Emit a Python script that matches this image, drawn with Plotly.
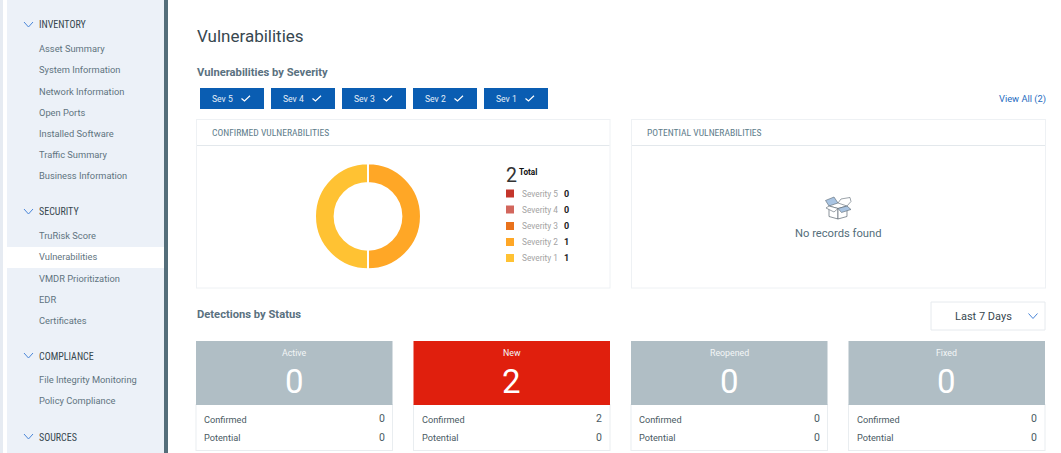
import plotly.graph_objects as go

W, H = 1061, 453

# ---- data ----
nav_groups = ["INVENTORY", "SECURITY", "COMPLIANCE", "SOURCES"]
nav_items = [
    ["Asset Summary", "System Information", "Network Information", "Open Ports",
     "Installed Software", "Traffic Summary", "Business Information"],
    ["TruRisk Score", "Vulnerabilities", "VMDR Prioritization", "EDR", "Certificates"],
    ["File Integrity Monitoring", "Policy Compliance"],
    [],
]
severity_labels = ["Severity 5", "Severity 4", "Severity 3", "Severity 2", "Severity 1"]
severity_values = [0, 0, 0, 1, 1]
severity_colors = ["#C4352B", "#D2665C", "#E9721C", "#FFA726", "#FFC233"]
sev_buttons = ["Sev 5", "Sev 4", "Sev 3", "Sev 2", "Sev 1"]
status_names = ["Active", "New", "Reopened", "Fixed"]
status_confirmed = [0, 2, 0, 0]
status_potential = [0, 0, 0, 0]
status_colors = ["#B0BEC5", "#E01F0D", "#B0BEC5", "#B0BEC5"]

shapes, ann = [], []
BODY = "Roboto, Arial, sans-serif"
NARROW = "'Roboto Condensed', Roboto, sans-serif"


def X(x):
    return x / W


def Y(y):
    return 1 - y / H


def rect(x0, y0, x1, y1, fill, line=None, lw=1):
    shapes.append(dict(type="rect", xref="paper", yref="paper", x0=X(x0), y0=Y(y0), x1=X(x1), y1=Y(y1),
                       fillcolor=fill, layer="below",
                       line=dict(color=line, width=lw) if line else dict(width=0)))


def path(pts, color, lw=1, fill=None, close=False):
    d = "M " + " L ".join(f"{X(a):.5f} {Y(b):.5f}" for a, b in pts) + (" Z" if close else "")
    shapes.append(dict(type="path", xref="paper", yref="paper", path=d,
                       fillcolor=fill or "rgba(0,0,0,0)", layer="above",
                       line=dict(color=color, width=lw)))


def text(x, y, s, size, color, anchor="left", font=BODY, bold=False):
    ann.append(dict(xref="paper", yref="paper", x=X(x), y=Y(y), text=f"<b>{s}</b>" if bold else s,
                    showarrow=False, xanchor=anchor, yanchor="middle",
                    font=dict(size=size, color=color, family=font), borderpad=0, borderwidth=0))


def chevron(cx, cy, w, h, color):
    path([(cx - w, cy - h), (cx, cy + h), (cx + w, cy - h)], color, 1)


# ---- sidebar ----
rect(0, 0, 3, H, "#E6EBF2")
rect(7, 0, 164, H, "#ECF1F8")
rect(164, 0, 168, H, "#546E7A")
rect(7, 247, 164, 268, "#FFFFFF")
group_y = [25, 212, 356, 437]
for name, items, gy in zip(nav_groups, nav_items, group_y):
    chevron(28.5, gy - 0.5, 4.5, 2.5, "#4A86D8")
    text(39, gy, name, 10, "#37474F", font=NARROW)
    for i, it in enumerate(items):
        text(39, gy + 23.8 + i * 21.15, it, 9.3, "#5F7480")

# ---- heading ----
text(197, 36, "Vulnerabilities", 17, "#37474F")
text(197, 72, "Vulnerabilities by Severity", 11.2, "#5A7180", bold=True)
text(1045.5, 99, "View All (2)", 9.3, "#1E6BC0", anchor="right")

# ---- severity buttons ----
for i, b in enumerate(sev_buttons):
    x0 = 200 + i * 71
    rect(x0, 88, x0 + 64, 109, "#0A5DB2")
    text(x0 + 12, 98.5, b, 8.6, "#E4EEF8")
    path([(x0 + 41.5, 98.5), (x0 + 44.5, 101), (x0 + 50, 95.8)], "#FFFFFF", 1.2)

# ---- cards ----
for x0, x1, title in [(197, 609.5, "CONFIRMED VULNERABILITIES"), (632, 1045, "POTENTIAL VULNERABILITIES")]:
    rect(x0 - 1, 119, x1 + 1, 288.5, "#EEF1F4")
    rect(x0, 120, x1, 287.5, "#FFFFFF")
    rect(x0, 145, x1, 146, "#E3E8EC")
    text(x0 + 14.5, 133, title, 9.6, "#607D8B", font=NARROW)

# ---- legend beside the donut ----
text(505.5, 175, str(sum(severity_values)), 19.5, "#333333")
text(519, 171.5, "Total", 8.2, "#111111", bold=True)
leg_y = [193.5, 209.5, 226, 242, 258]
for lab, val, col, y in zip(severity_labels, severity_values, severity_colors, leg_y):
    rect(506, y - 4, 514, y + 4, col)
    text(521.5, y, lab, 8.3, "#A3A3A3")
    text(563.5, y, str(val), 9, "#212121", bold=True)

# ---- empty state ----
ink = "#5A6670"
blue = "#A9C4E2"
path([(829, 206), (838, 208.5), (838, 219), (829, 216.5)], ink, 0.7, "#FFFFFF", True)
path([(847, 206), (838, 208.5), (838, 219), (847, 216.5)], ink, 0.7, "#FFFFFF", True)
path([(825.5, 200.5), (834, 197), (838, 203), (829, 206)], ink, 0.6, blue, True)
path([(841, 199), (850, 197.5), (851, 201.5), (847, 206), (838, 203)], ink, 0.6, "#FFFFFF", True)
path([(826, 208), (829, 206), (838, 208.5), (834, 212)], ink, 0.6, "#FFFFFF", True)
path([(838, 208.5), (847, 206), (851, 209.5), (841.5, 212.5)], ink, 0.6, blue, True)
text(838, 233.5, "No records found", 11.2, "#546E7A", anchor="center")

# ---- detections by status ----
text(196.5, 314, "Detections by Status", 11.2, "#5A7180", bold=True)
rect(931, 302, 1045, 330, "#FFFFFF", "#E6EAEE")
text(983, 316, "Last 7 Days", 11, "#37474F", anchor="center")
chevron(1033, 316, 4.5, 2.5, "#4A86D8")

card_x = [196, 413.5, 631, 848.5]
for name, conf, pot, col, x0 in zip(status_names, status_confirmed, status_potential, status_colors, card_x):
    x1 = x0 + 196.5
    cx = (x0 + x1) / 2
    rect(x0 - 0.5, 404, x1 + 0.5, 451, "#E9EDF0")
    rect(x0 + 0.5, 405, x1 - 0.5, 450, "#FFFFFF")
    rect(x0, 341, x1, 405, col)
    text(cx, 353, name, 8.8, "#F3F6F7", anchor="center")
    text(cx, 381, str(conf + pot), 33, "#FFFFFF", anchor="center")
    text(x0 + 8, 419.5, "Confirmed", 9.2, "#4A5A63")
    text(x0 + 8, 437.5, "Potential", 9.2, "#4A5A63")
    text(x1 - 8, 418, str(conf), 10.5, "#4A5A63", anchor="right")
    text(x1 - 8, 437, str(pot), 10.5, "#4A5A63", anchor="right")

# ---- donut ----
cx, cy, r = 368, 216.3, 53
donut = go.Pie(
    labels=severity_labels, values=severity_values, sort=False, direction="clockwise", rotation=0,
    hole=0.63, textinfo="none", showlegend=False, hoverinfo="label+value",
    marker=dict(colors=severity_colors, line=dict(color="#FFFFFF", width=2)),
    domain=dict(x=[X(cx - r), X(cx + r)], y=[Y(cy + r), Y(cy - r)]),
)

fig = go.Figure(donut)
fig.update_layout(
    width=W, height=H, autosize=False, margin=dict(l=0, r=0, t=0, b=0),
    paper_bgcolor="#FFFFFF", plot_bgcolor="#FFFFFF", showlegend=False,
    shapes=shapes, annotations=ann,
)
fig.write_html("out.html", config=dict(displayModeBar=False),
               post_script="document.body.style.margin='0';document.documentElement.style.overflow='hidden';")
